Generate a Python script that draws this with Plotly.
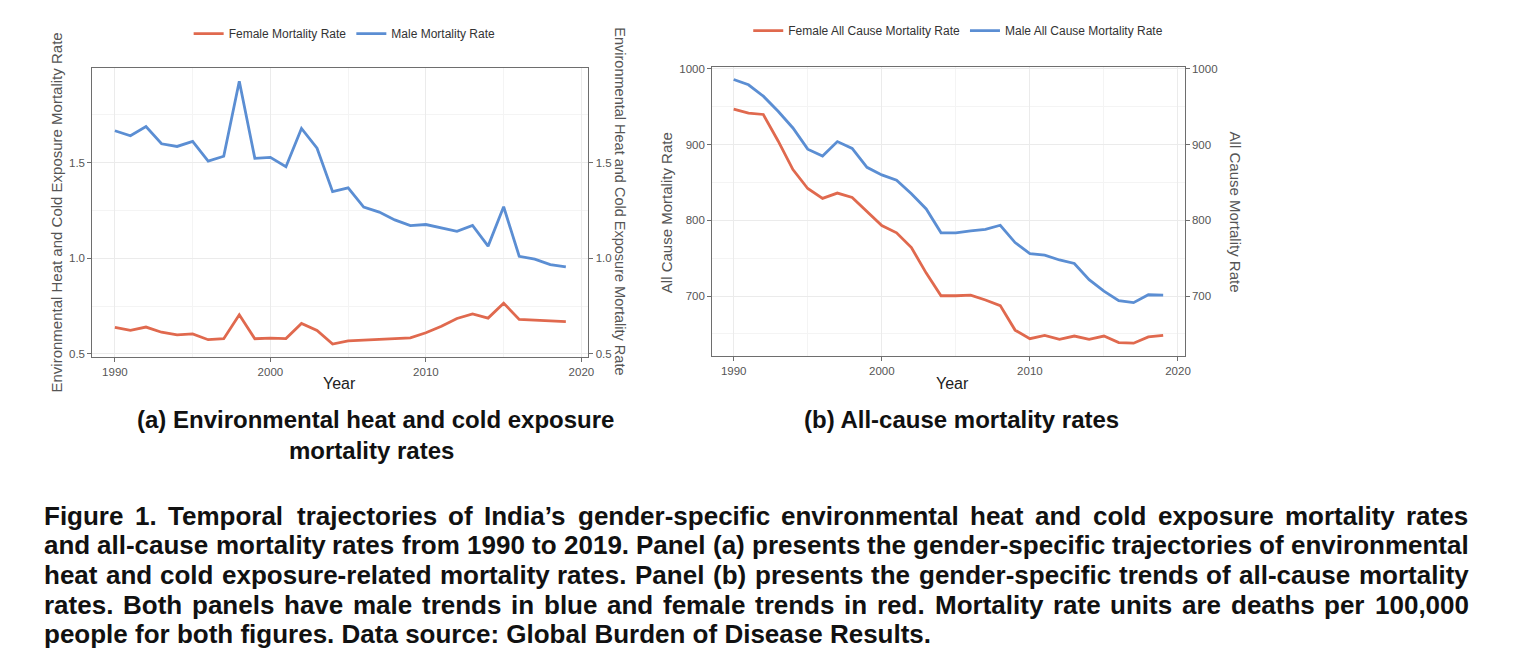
import plotly.graph_objects as go

years = list(range(1990, 2020))

heat_male = [1.666, 1.640, 1.688, 1.598, 1.584, 1.610, 1.507, 1.533, 1.925, 1.522,
             1.527, 1.478, 1.678, 1.575, 1.348, 1.368, 1.267, 1.241, 1.200, 1.170,
             1.176, 1.158, 1.140, 1.171, 1.063, 1.269, 1.010, 0.995, 0.966, 0.955]
heat_female = [0.639, 0.623, 0.640, 0.613, 0.599, 0.604, 0.574, 0.579, 0.704, 0.579,
               0.582, 0.580, 0.659, 0.622, 0.551, 0.568, 0.572, 0.577, 0.579, 0.584,
               0.610, 0.644, 0.685, 0.709, 0.687, 0.765, 0.680, 0.675, 0.670, 0.668]

all_male = [986, 979, 964, 944, 922, 894, 885, 904, 895, 870,
            860, 853, 835, 815, 783.5, 783.5, 786, 788, 793.5, 770.6,
            756, 754, 747.6, 743, 721.6, 706.5, 694, 691.3, 701.7, 701.3]
all_female = [946.8, 941.6, 939.8, 904.8, 867, 842, 829, 836, 830.3, 811.7,
              793, 783.5, 764, 730.3, 700.4, 700.4, 701.3, 694.8, 687.4, 655,
              643.7, 648, 642.9, 647.2, 642.9, 647.2, 638.5, 637.7, 646, 648]

x_ticks = [1990, 2000, 2010, 2020]
heat_ticks = [0.5, 1.0, 1.5]
heat_tick_text = ["0.5", "1.0", "1.5"]
all_ticks = [700, 800, 900, 1000]

caption_lines = [
    "Figure 1. Temporal trajectories of India’s gender-specific environmental heat and cold exposure mortality rates",
    "and all-cause mortality rates from 1990 to 2019. Panel (a) presents the gender-specific trajectories of environmental",
    "heat and cold exposure-related mortality rates. Panel (b) presents the gender-specific trends of all-cause mortality",
    "rates. Both panels have male trends in blue and female trends in red. Mortality rate units are deaths per 100,000",
    "people for both figures. Data source: Global Burden of Disease Results.",
]

RED = "#E0694E"
BLUE = "#5B8ED3"
FONT = "Arial, Liberation Sans, sans-serif"
W, H = 1536, 659

def px(x):
    return x / W

def py(y):
    return 1 - y / H

# Arial/Helvetica Bold advance widths (per 1000 em) for text justification
BOLD_W = {' ': 278, '.': 278, ',': 278, ':': 333, '-': 333, '(': 333, ')': 333, '’': 278, "'": 238}
for c in '0123456789':
    BOLD_W[c] = 556
BOLD_W.update(dict(zip('ABCDEFGHIJKLMNOPQRSTUVWXYZ',
                       [722, 722, 722, 722, 667, 611, 778, 722, 278, 556, 722, 611, 833, 722, 778, 667,
                        778, 722, 667, 611, 722, 667, 944, 667, 667, 611])))
BOLD_W.update(dict(zip('abcdefghijklmnopqrstuvwxyz',
                       [556, 611, 556, 611, 556, 333, 611, 611, 278, 278, 556, 278, 889, 611, 611, 611,
                        611, 389, 556, 333, 611, 556, 778, 556, 556, 500])))

def text_w(s, size):
    return sum(BOLD_W.get(c, 556) for c in s) * size / 1000.0

fig = go.Figure()

fig.add_trace(go.Scatter(x=years, y=heat_female, mode="lines", name="Female Mortality Rate",
                         line=dict(color=RED, width=2.8), xaxis="x", yaxis="y", legend="legend"))
fig.add_trace(go.Scatter(x=years, y=heat_male, mode="lines", name="Male Mortality Rate",
                         line=dict(color=BLUE, width=2.8), xaxis="x", yaxis="y", legend="legend"))
fig.add_trace(go.Scatter(x=years, y=heat_male, mode="lines", showlegend=False, hoverinfo="skip",
                         line=dict(color="rgba(0,0,0,0)", width=0), xaxis="x", yaxis="y2"))

fig.add_trace(go.Scatter(x=years, y=all_female, mode="lines", name="Female All Cause Mortality Rate",
                         line=dict(color=RED, width=2.8), xaxis="x2", yaxis="y3", legend="legend2"))
fig.add_trace(go.Scatter(x=years, y=all_male, mode="lines", name="Male All Cause Mortality Rate",
                         line=dict(color=BLUE, width=2.8), xaxis="x2", yaxis="y3", legend="legend2"))
fig.add_trace(go.Scatter(x=years, y=all_male, mode="lines", showlegend=False, hoverinfo="skip",
                         line=dict(color="rgba(0,0,0,0)", width=0), xaxis="x2", yaxis="y4"))

GRID = "#ebebeb"
MINOR = "#f4f4f4"
LINE = "#6e6e6e"
TICKF = dict(family=FONT, size=11.5, color="#555555")

xa_dom = [px(92.7), px(590.7)]
xb_dom = [px(715), px(1189.3)]
ya_dom = [py(356.7), py(64.7)]
yb_dom = [py(356), py(63.3)]

common_x = dict(range=[1988.55, 2020.45], tickvals=x_ticks, showgrid=True, gridcolor=GRID, gridwidth=1,
                minor=dict(dtick=5, tick0=1995, showgrid=True, gridcolor=MINOR, gridwidth=0.8),
                showline=True, linecolor=LINE, linewidth=1, mirror=True,
                ticks="outside", ticklen=4, tickcolor=LINE, tickfont=TICKF, zeroline=False)

fig.update_layout(
    width=W, height=H,
    margin=dict(l=0, r=0, t=0, b=0),
    paper_bgcolor="white", plot_bgcolor="white",
    font=dict(family=FONT),
    xaxis=dict(domain=xa_dom, anchor="y", **common_x),
    yaxis=dict(domain=ya_dom, anchor="x", range=[0.484, 1.994], tickvals=heat_ticks, ticktext=heat_tick_text,
               showgrid=True, gridcolor=GRID,
               minor=dict(dtick=0.5, tick0=0.75, showgrid=True, gridcolor=MINOR, gridwidth=0.8),
               showline=True, linecolor=LINE, linewidth=1, mirror=True,
               ticks="outside", ticklen=4, tickcolor=LINE, tickfont=TICKF, zeroline=False),
    yaxis2=dict(overlaying="y", side="right", anchor="x", range=[0.484, 1.994], tickvals=heat_ticks,
                ticktext=heat_tick_text, showgrid=False, showline=False, ticks="outside", ticklen=4,
                tickcolor=LINE, tickfont=TICKF, zeroline=False),
    xaxis2=dict(domain=xb_dom, anchor="y3", **common_x),
    yaxis3=dict(domain=yb_dom, anchor="x2", range=[620.5, 1003], tickvals=all_ticks,
                showgrid=True, gridcolor=GRID,
                minor=dict(dtick=100, tick0=650, showgrid=True, gridcolor=MINOR, gridwidth=0.8),
                showline=True, linecolor=LINE, linewidth=1, mirror=True,
                ticks="outside", ticklen=4, tickcolor=LINE, tickfont=TICKF, zeroline=False),
    yaxis4=dict(overlaying="y3", side="right", anchor="x2", range=[620.5, 1003], tickvals=all_ticks,
                showgrid=False, showline=False, ticks="outside", ticklen=4,
                tickcolor=LINE, tickfont=TICKF, zeroline=False),
    legend=dict(orientation="h", x=px(346), xanchor="center", y=py(30), yanchor="middle",
                font=dict(family=FONT, size=12, color="#333333"), itemwidth=30, bgcolor="rgba(0,0,0,0)"),
    legend2=dict(orientation="h", x=px(962), xanchor="center", y=py(27), yanchor="middle",
                 font=dict(family=FONT, size=12, color="#333333"), itemwidth=30, bgcolor="rgba(0,0,0,0)"),
)

ann = []
TITLEF = dict(family=FONT, size=15, color="#555555")
ann.append(dict(x=px(57), y=py(211), text="Environmental Heat and Cold Exposure Mortality Rate",
                textangle=-90, font=TITLEF))
ann.append(dict(x=px(623), y=py(199), text="Environmental Heat and Cold Exposure Mortality Rate",
                textangle=90, font=dict(family=FONT, size=14.5, color="#555555")))
ann.append(dict(x=px(669), y=py(211), text="All Cause Mortality Rate", textangle=-90, font=TITLEF))
ann.append(dict(x=px(1240), y=py(210), text="All Cause Mortality Rate", textangle=90, font=TITLEF))
YEARF = dict(family=FONT, size=16, color="#222222")
ann.append(dict(x=px(341), y=py(384), text="Year", font=YEARF))
ann.append(dict(x=px(956), y=py(384), text="Year", font=YEARF))

CAPF = dict(family=FONT, size=24, color="#111111")
ann.append(dict(x=px(377), y=py(420), text="<b>(a) Environmental heat and cold exposure</b>", font=CAPF))
ann.append(dict(x=px(373), y=py(451), text="<b>mortality rates</b>", font=CAPF))
ann.append(dict(x=px(965), y=py(420), text="<b>(b) All-cause mortality rates</b>", font=CAPF))

# Justified figure caption
FIG_SIZE = 26
FIGF = dict(family=FONT, size=FIG_SIZE, color="#111111")
LEFT, RIGHT = 44, 1474
for i, line in enumerate(caption_lines):
    yy = py(517 + 30 * i)
    if i == len(caption_lines) - 1:
        ann.append(dict(x=px(LEFT - 2), y=yy, xanchor="left", text="<b>" + line + "</b>", font=FIGF))
        continue
    words = line.split(" ")
    widths = [text_w(wd, FIG_SIZE) for wd in words]
    gap = (RIGHT - LEFT - sum(widths)) / (len(words) - 1)
    xpos = LEFT
    for wd, ww in zip(words, widths):
        ann.append(dict(x=px(xpos - 2), y=yy, xanchor="left", text="<b>" + wd + "</b>", font=FIGF))
        xpos += ww + gap

for a in ann:
    a.setdefault("xanchor", "center")
    a.update(xref="paper", yref="paper", yanchor="middle", showarrow=False)

fig.update_layout(annotations=ann)

fig.write_html("out.html")
